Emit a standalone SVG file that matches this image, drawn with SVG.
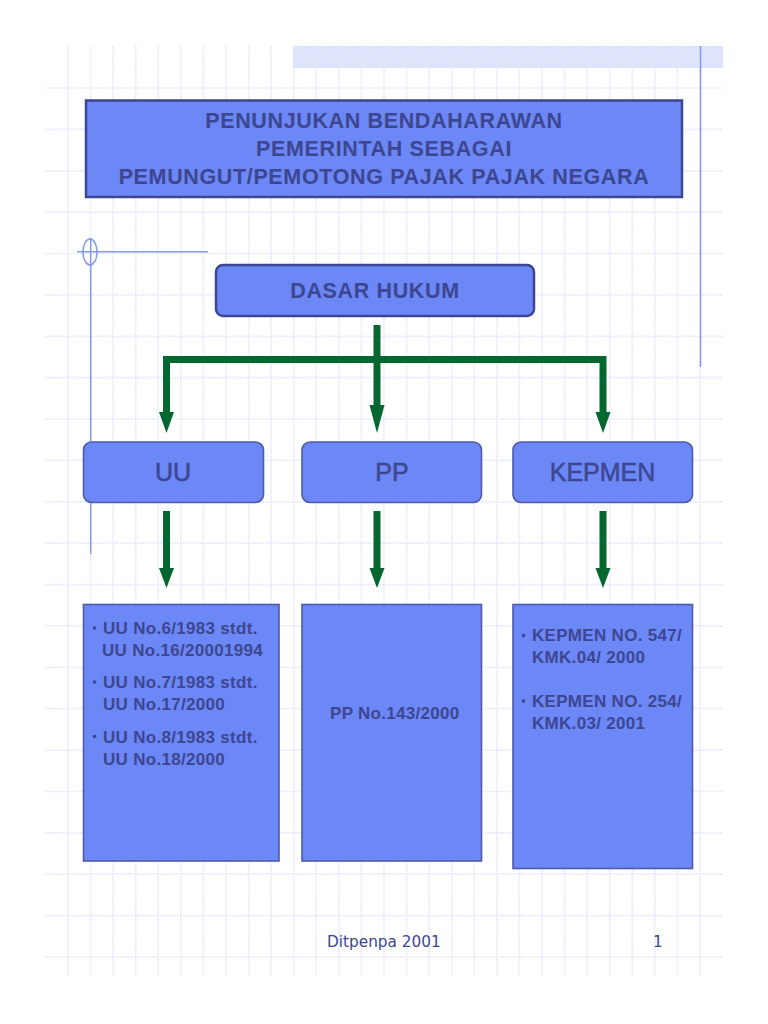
<svg xmlns="http://www.w3.org/2000/svg" width="768" height="1024" viewBox="0 0 768 1024">
<style>
.g{stroke:#e2e7fb;stroke-width:1.7;stroke-dasharray:1.5 1;fill:none}
.d{stroke:#8498ec;stroke-width:1.5;fill:none}
.b{fill:#6c87f6;stroke:#3d4690;stroke-width:2.5}
.m{fill:#6c87f6;stroke:#4f5ba8;stroke-width:1.6}
.t{fill:#3d4690;font-family:"Liberation Sans",Arial,sans-serif;font-weight:bold}
.h{font-size:21.500px;text-anchor:middle;letter-spacing:.64px}
.l{font-size:25px;font-weight:normal;text-anchor:middle;stroke:#3d4690;stroke-width:.5}
.s{font-size:17px;letter-spacing:.3px}
.f{fill:#3d4690;font-family:"DejaVu Sans",Verdana,sans-serif;font-size:15.300px}
.c{stroke:#04672f;stroke-width:7;fill:none}
.p{fill:#3d4690}
</style>
<defs>
<pattern id="dither" width="3" height="3" patternUnits="userSpaceOnUse"><rect width="3" height="3" fill="#e8edfd"/><rect width="1.5" height="1.5" fill="#d3dcfa"/><rect x="1.5" y="1.5" width="1.5" height="1.5" fill="#d3dcfa"/></pattern>
</defs>
<rect width="768" height="1024" fill="#fff"/>
<g id="grid">
<path class="g" d="M68 46V976M90.600 46V976M113.100 46V976M135.700 46V976M158.300 46V976M180.900 46V976M203.400 46V976M226 46V976M248.600 46V976M271.100 46V976M293.700 46V976M316.300 46V976M338.900 46V976M361.400 46V976M384 46V976M406.600 46V976M429.100 46V976M451.700 46V976M474.300 46V976M496.900 46V976M519.400 46V976M542 46V976M564.600 46V976M587.100 46V976M609.700 46V976M632.300 46V976M654.900 46V976M677.400 46V976M700 46V976"/>
<path class="g" d="M45 88H723M45 129.400H723M45 170.800H723M45 212.100H723M45 253.500H723M45 294.900H723M45 336.300H723M45 377.700H723M45 419H723M45 460.400H723M45 501.800H723M45 543.200H723M45 584.600H723M45 625.900H723M45 667.300H723M45 708.700H723M45 750.100H723M45 791.500H723M45 832.800H723M45 874.200H723M45 915.600H723M45 957H723"/>
<rect x="293" y="46" width="430" height="22" fill="url(#dither)"/>
</g>
<g id="decor">
<path class="d" d="M700.500 46V367M90.700 238V554M77 251.700H208"/>
<ellipse class="d" cx="90" cy="252" rx="7" ry="13"/>
</g>
<g id="title"><rect class="b" x="86" y="100.500" width="596" height="96.500"/>
<text class="t h" x="384" y="128">PENUNJUKAN BENDAHARAWAN</text>
<text class="t h" x="384" y="156">PEMERINTAH SEBAGAI</text>
<text class="t h" x="384" y="184">PEMUNGUT/PEMOTONG PAJAK PAJAK NEGARA</text></g>
<g id="dasar"><rect class="b" x="216" y="265" width="318" height="51" rx="7"/><text class="t h" x="375" y="297.500">DASAR HUKUM</text></g>
<g id="connectors">
<path class="c" d="M377 325V408M166.500 412V359.500H603V412M166.500 511V570M377 511V570M603 511V570"/>
<path fill="#04672f" d="M159 412H174L166.500 433ZM369.500 405H384.500L377 433ZM595.500 412H610.500L603 433ZM159 568H174L166.500 588ZM369.500 568H384.500L377 588ZM595.500 568H610.500L603 588Z"/>
</g>
<g id="uu"><rect class="m" x="83.500" y="442" width="180" height="60.500" rx="8"/><text class="t l" x="173" y="481">UU</text></g>
<g id="pp"><rect class="m" x="302" y="442" width="179.500" height="60.500" rx="8"/><text class="t l" x="392" y="481">PP</text></g>
<g id="kepmen"><rect class="m" x="513" y="442" width="179.500" height="60.500" rx="8"/><text class="t l" x="602.500" y="481">KEPMEN</text></g>
<g id="uu-list"><rect class="m" x="83.500" y="604.500" width="195.500" height="256.500"/>
<circle class="p" cx="94.500" cy="628" r="1.800"/><text class="t s" x="103" y="634">UU No.6/1983 stdt.</text><text class="t s" x="102" y="656">UU No.16/20001994</text>
<circle class="p" cx="94.500" cy="682" r="1.800"/><text class="t s" x="103" y="688">UU No.7/1983 stdt.</text><text class="t s" x="103" y="710">UU No.17/2000</text>
<circle class="p" cx="94.500" cy="736.500" r="1.800"/><text class="t s" x="103" y="743">UU No.8/1983 stdt.</text><text class="t s" x="103" y="765">UU No.18/2000</text>
</g>
<g id="pp-list"><rect class="m" x="302" y="604.500" width="179.500" height="256.500"/><text class="t s" x="330" y="718.500">PP No.143/2000</text></g>
<g id="kepmen-list"><rect class="m" x="513" y="604.500" width="179.500" height="264"/>
<circle class="p" cx="523.500" cy="635.500" r="1.800"/><text class="t s" x="532" y="641">KEPMEN NO. 547/</text><text class="t s" x="532" y="663">KMK.04/ 2000</text>
<circle class="p" cx="523.500" cy="701" r="1.800"/><text class="t s" x="532" y="706.500">KEPMEN NO. 254/</text><text class="t s" x="532" y="728.500">KMK.03/ 2001</text></g>
<g id="footer"><text class="f" x="327" y="947">Ditpenpa 2001</text><text class="f" x="653" y="947">1</text></g>
</svg>
